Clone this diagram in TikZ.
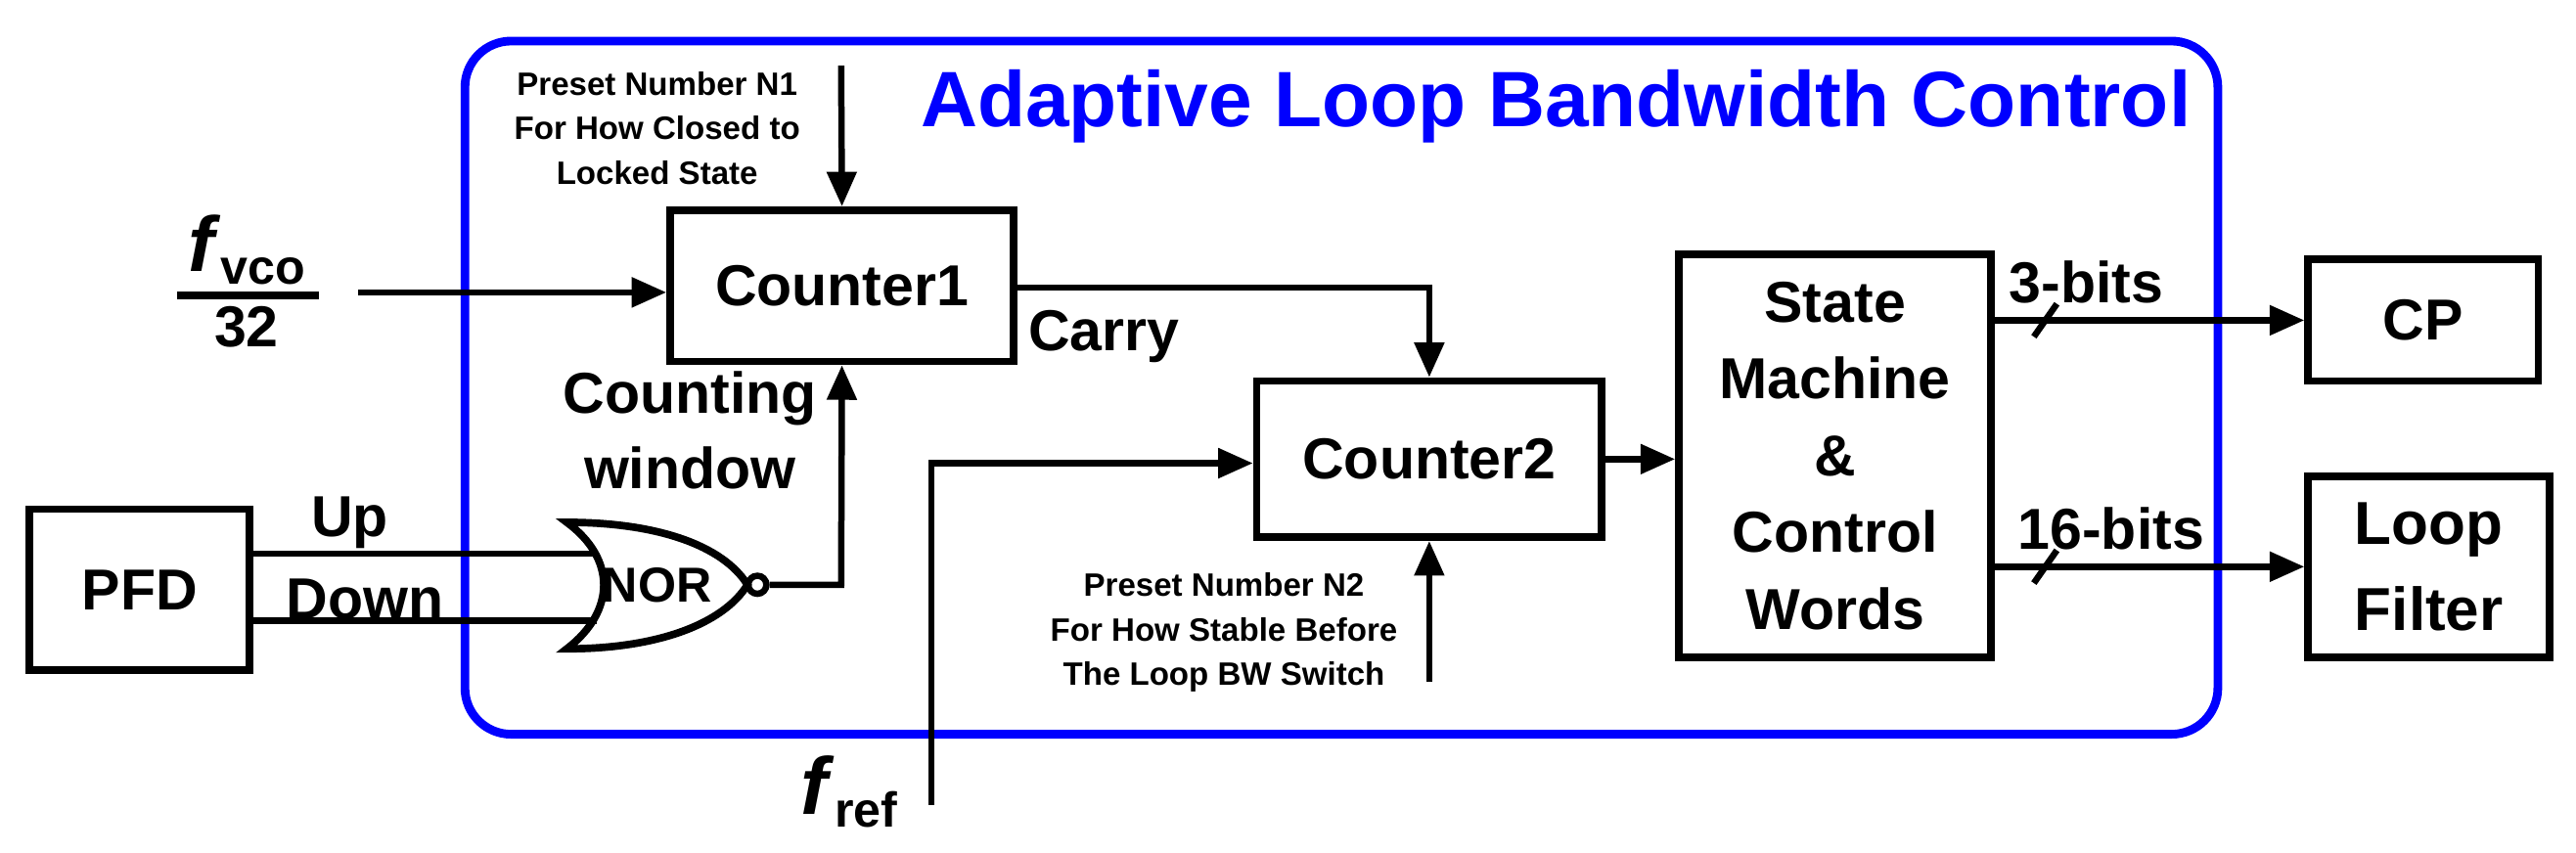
\documentclass[tikz,border=0pt]{standalone}
\usepackage{fontspec}
\setmainfont{Liberation Sans}
\usetikzlibrary{arrows.meta}
\begin{document}
\begin{tikzpicture}[x=0.01cm,y=-0.01cm,
  box/.style={draw,line width=1.3pt,inner sep=0pt},
  lbl/.style={font=\bfseries\fontsize{10}{12}\selectfont,inner sep=0pt},
  small/.style={font=\bfseries\fontsize{5.6}{7.7}\selectfont,align=center,inner sep=0pt},
  wire/.style={line width=1.1pt},
  arr/.style={wire,-{Triangle[length=6pt,width=5pt]}}]
\useasboundingbox (0,0) rectangle (1568,519);
\draw[blue,line width=1.5pt,rounded corners=8pt] (283,25) rectangle (1350,447);
\node[blue,font=\bfseries\fontsize{13.6}{15}\selectfont] (title) at (947,65) {Adaptive Loop Bandwidth Control};
% boxes
\node[box,minimum width=2.09cm,minimum height=0.92cm,lbl] (c1) at (512.5,174) {Counter1};
\node[box,minimum width=2.10cm,minimum height=0.95cm,lbl] (c2) at (870,279.5) {Counter2};
\node[box,minimum width=1.90cm,minimum height=2.45cm,lbl,align=center,font=\bfseries\fontsize{10}{13.3}\selectfont] (sm) at (1117,277.5) {State\\Machine\\\&\\Control\\Words};
\node[box,minimum width=1.40cm,minimum height=0.74cm,lbl] (cp) at (1475,195) {CP};
\node[box,minimum width=1.47cm,minimum height=1.10cm,lbl,align=center,font=\bfseries\fontsize{10.5}{15}\selectfont] (lf) at (1478.5,345) {Loop\\Filter};
\node[box,minimum width=1.34cm,minimum height=0.98cm,lbl] (pfd) at (85,359) {PFD};
% texts
\node[small] (n1) at (400,78) {Preset Number N1\\For How Closed to\\Locked State};
\node[small] (n2) at (745,385) {Preset Number N2\\For How Stable Before\\The Loop BW Switch};
\node[inner sep=0pt,font=\bfseries\fontsize{13.5}{15}\selectfont,anchor=south] (fvn) at (150,174) {\textit{f}\raisebox{-0.3ex}{\fontsize{8.5}{9}\selectfont vco}};
\draw[line width=1.3pt] (108,180) -- (194,180);
\node[inner sep=0pt,font=\bfseries\fontsize{10}{11}\selectfont,anchor=north] (fvd) at (150,186) {32};
\node[inner sep=0pt,font=\bfseries\fontsize{14}{15}\selectfont] (fr) at (517,482) {\textit{f}\raisebox{-0.3ex}{\fontsize{8.5}{9}\selectfont ref}};
\node[lbl] (carry) at (672,205) {Carry};
\node[lbl,align=center,font=\bfseries\fontsize{10}{13}\selectfont] (cw) at (420,262) {Counting\\window};
\node[lbl] (up) at (213,318) {Up};
\node[lbl] (dn) at (222,365) {Down};
\node[lbl] (b3) at (1270,172) {3-bits};
\node[lbl] (b16) at (1285,322) {16-bits};
% NOR gate
\draw[line width=1.3pt] (345,318) .. controls (375,340) and (375,372) .. (345,395)
  .. controls (400,395) and (440,380) .. (455,356)
  .. controls (440,332) and (400,318) .. cycle;
\node[draw,circle,line width=1.1pt,minimum size=0.11cm,inner sep=0pt] (bub) at (461,356) {};
\node[lbl,font=\bfseries\fontsize{8.5}{10}\selectfont] (nor) at (400,356) {NOR};
% wires
\coordinate (n1t) at (512,40);
\draw[arr] (n1t) -- (c1.north);
\coordinate (fvr) at (218,178);
\draw[arr] (fvr) -- (fvr-|c1.west);
\draw[arr] (c1.east|-0,175) -- (870,175) -- (c2.north);
\draw[arr] (bub.east) -- (512,356) -- (c1.south);
\draw[wire] (pfd.east|-0,337) -- (363,337);
\draw[wire] (pfd.east|-0,378) -- (363,378);
\coordinate (frt) at (567,490);
\draw[arr] (frt) -- (567,282) -- (c2.west|-0,282);
\coordinate (n2b) at (870,415);
\draw[arr] (n2b) -- (c2.south);
\draw[arr] (c2.east) -- (sm.west|-c2.east);
\draw[arr] (sm.east|-cp.west) -- (cp.west);
\draw[wire] (1238,205) -- (1252,185);
\draw[arr] (sm.east|-lf.west) -- (lf.west);
\draw[wire] (1238,355) -- (1252,335);
\end{tikzpicture}
\end{document}
